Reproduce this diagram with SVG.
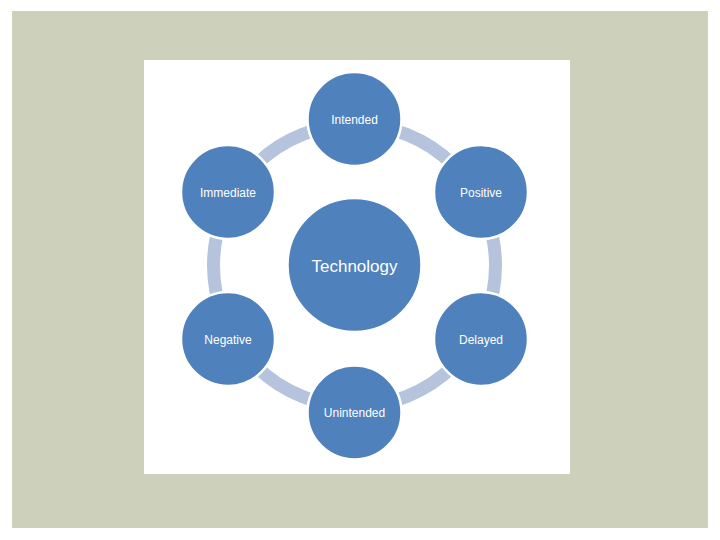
<svg xmlns="http://www.w3.org/2000/svg" width="720" height="540" viewBox="0 0 720 540">
<style>
.node{fill:#4F81BD;stroke:#FFFFFF;stroke-width:2.5}
.lbl{fill:#FFFFFF;font-family:"Liberation Sans",Arial,sans-serif;font-size:12px;text-anchor:middle}
.big{font-size:17px}
.ring{fill:none;stroke:#B5C3DD;stroke-width:13}
</style>
<rect x="0" y="0" width="720" height="540" fill="#FFFFFF"/>
<rect x="12" y="11" width="696" height="517" fill="#CDD1BB"/>
<rect x="144" y="60" width="426" height="414" fill="#FFFFFF"/>
<g id="connectors">
<circle class="ring" cx="354.5" cy="265.5" r="141"/>
</g>
<g id="technology"><circle class="node" cx="354.5" cy="265" r="67"/><text class="lbl big" x="354.5" y="271.5">Technology</text></g>
<g id="intended"><circle class="node" cx="354.5" cy="119" r="47"/><text class="lbl" x="354.5" y="124">Intended</text></g>
<g id="positive"><circle class="node" cx="481" cy="192" r="47"/><text class="lbl" x="481" y="197">Positive</text></g>
<g id="delayed"><circle class="node" cx="481" cy="339" r="47"/><text class="lbl" x="481" y="344">Delayed</text></g>
<g id="unintended"><circle class="node" cx="354.5" cy="412.5" r="47"/><text class="lbl" x="354.5" y="417">Unintended</text></g>
<g id="negative"><circle class="node" cx="228" cy="339" r="47"/><text class="lbl" x="228" y="344">Negative</text></g>
<g id="immediate"><circle class="node" cx="228" cy="192" r="47"/><text class="lbl" x="228" y="197">Immediate</text></g>
</svg>
